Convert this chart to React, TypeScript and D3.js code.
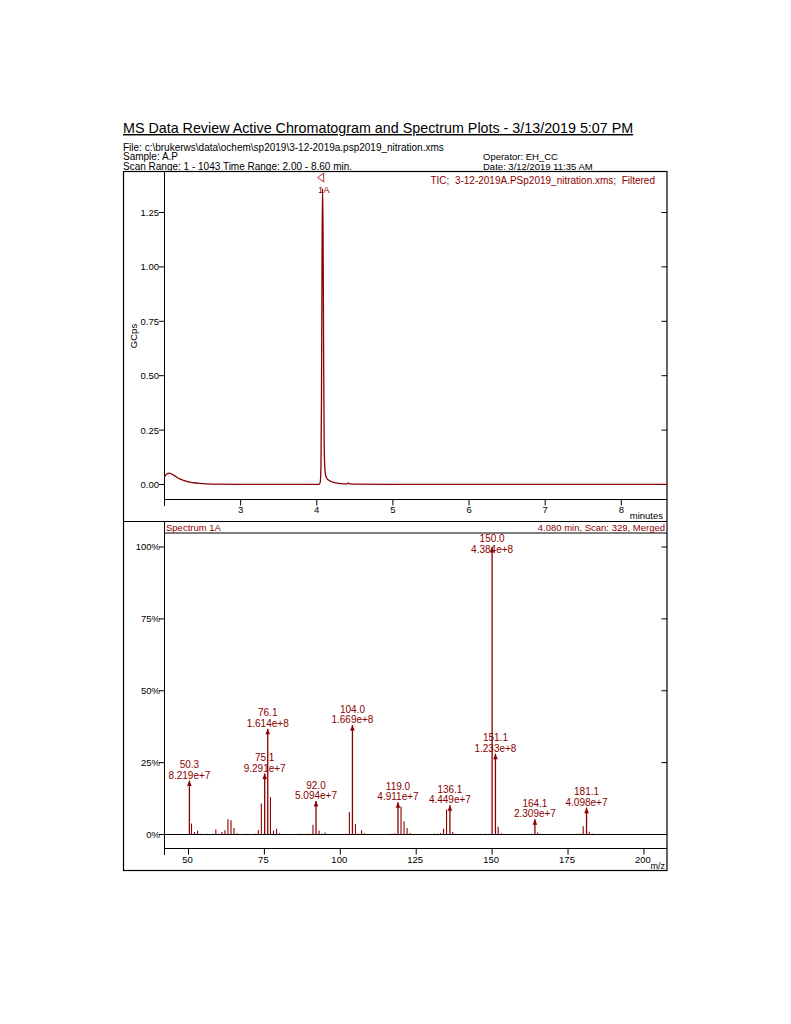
import React from "react";
import * as d3 from "d3";

// ---------- Chromatogram (TIC) ----------
const chromTime = [
  2.0, 2.03, 2.06, 2.09, 2.12, 2.16, 2.2, 2.25, 2.3, 2.38, 2.46, 2.55, 2.7, 3.0, 3.5,
  4.0, 4.03, 4.045, 4.055, 4.062, 4.068, 4.075, 4.082, 4.09, 4.097, 4.105, 4.115, 4.13,
  4.15, 4.18, 4.22, 4.27, 4.32, 4.38, 4.4, 4.415, 4.43, 4.5, 5.0, 6.0, 7.0, 8.0, 8.6,
];
const chromGcps = [
  0.035, 0.048, 0.052, 0.049, 0.043, 0.034, 0.026, 0.019, 0.013, 0.008, 0.005, 0.003, 0.0015, 0.0008, 0.0005,
  0.0004, 0.001, 0.01, 0.08, 0.4, 0.95, 1.36, 1.2, 0.6, 0.2, 0.08, 0.045, 0.03,
  0.022, 0.015, 0.01, 0.006, 0.004, 0.003, 0.003, 0.007, 0.003, 0.002, 0.001, 0.0005, 0.0004, 0.0003, 0.0003,
];
const timeTicks = [3, 4, 5, 6, 7, 8];
const gcpsTicks = [0, 0.25, 0.5, 0.75, 1.0, 1.25];
const peakMarkTime = 4.045;
const peakMarkLabel = "1A";

// ---------- Spectrum ----------
const labeledMz = [50.3, 75.1, 76.1, 92.0, 104.0, 119.0, 136.1, 150.0, 151.1, 164.1, 181.1];
const labeledIntensity = [8.219e7, 9.291e7, 1.614e8, 5.094e7, 1.669e8, 4.911e7, 4.449e7, 4.384e8, 1.233e8, 2.309e7, 4.098e7];
const basePeakIntensity = 4.384e8;

const minorMz = [
  51, 52, 53, 54, 55, 56, 57, 58, 59, 60, 61, 62, 63, 64, 65, 66, 67, 68, 69, 70, 71, 72, 73, 74,
  77, 78, 79, 80, 81, 82, 83, 84, 85, 86, 87, 88, 89, 90, 91, 93, 94, 95, 96, 97, 98, 99, 100, 101, 102,
  103, 105, 106, 107, 108, 109, 110, 111, 112, 113, 114, 115, 116, 117, 118, 120, 121, 122, 123,
  124, 125, 126, 127, 128, 129, 130, 131, 132, 133, 134, 135, 137, 138, 139, 140, 141, 142, 143, 144,
  145, 146, 147, 148, 149, 152, 153, 154, 155, 156, 157, 158, 159, 160, 161, 162, 163, 165, 166,
  167, 168, 169, 170, 171, 172, 173, 174, 175, 176, 177, 178, 179, 180, 182, 183, 184, 185,
];
const minorPct = [
  3.8, 0.9, 1.3, 0.3, 0.2, 0.3, 0.2, 0.3, 1.7, 0.3, 0.9, 1.5, 5.3, 5.0, 2.3, 0.4, 0.2, 0.2, 0.3, 0.2, 0.2, 0.3, 1.6, 10.8,
  13.0, 1.4, 2.0, 0.4, 0.2, 0.2, 0.2, 0.2, 0.2, 0.3, 0.3, 0.2, 0.3, 0.3, 3.4, 1.4, 0.3, 0.7, 0.2, 0.2, 0.2, 0.2, 0.2, 0.2, 0.3,
  7.8, 3.6, 0.3, 1.5, 0.4, 0.2, 0.2, 0.2, 0.2, 0.2, 0.2, 0.2, 0.3, 0.3, 0.4, 9.7, 4.6, 2.3, 0.5,
  0.2, 0.2, 0.2, 0.2, 0.2, 0.2, 0.2, 0.3, 0.3, 0.5, 2.0, 8.7, 0.9, 0.3, 0.2, 0.2, 0.2, 0.2, 0.2, 0.2,
  0.2, 0.3, 0.2, 0.3, 0.3, 2.7, 0.4, 0.2, 0.2, 0.2, 0.2, 0.2, 0.2, 0.2, 0.2, 0.2, 0.3, 0.7, 0.3,
  0.2, 0.2, 0.2, 0.2, 0.2, 0.2, 0.2, 0.2, 0.2, 0.2, 0.2, 0.3, 0.3, 2.9, 1.0, 0.3, 0.2, 0.2,
];
const mzTicks = [50, 75, 100, 125, 150, 175, 200];
const pctTicks = [0, 25, 50, 75, 100];

const titleText = "MS Data Review Active Chromatogram and Spectrum Plots - 3/13/2019 5:07 PM";
const fileText = "File: c:\\brukerws\\data\\ochem\\sp2019\\3-12-2019a.psp2019_nitration.xms";
const sampleText = "Sample: A.P";
const operatorText = "Operator: EH_CC";
const scanText = "Scan Range: 1 - 1043 Time Range: 2.00 - 8.60 min.";
const dateText = "Date: 3/12/2019 11:35 AM";
const ticText = "TIC;  3-12-2019A.PSp2019_nitration.xms;  Filtered";
const spectrumTitle = "Spectrum 1A";
const spectrumInfo = "4.080 min, Scan: 329, Merged";

const RED = "#8b0000";
const FONT = "'Liberation Sans', Arial, Helvetica, sans-serif";

export default function App() {
  const W = 791;
  const H = 1024;
  const frameL = 123.5;
  const frameR = 667;
  const frameT = 171.5;
  const frameB = 870.5;
  const axL = 164.5;

  // chromatogram scales
  const xT = d3.scaleLinear().domain([2.0, 8.6]).range([axL, frameR]);
  const yC = d3.scaleLinear().domain([0, 1.25]).range([484.5, 212.5]);
  const chromAxisY = 499.5;
  const chromLine = d3
    .line<number>()
    .x((_, i) => xT(chromTime[i]))
    .y((_, i) => yC(chromGcps[i]))
    .curve(d3.curveMonotoneX);

  // spectrum scales
  const xM = d3.scaleLinear().domain([42.1, 207.6]).range([axL, frameR]);
  const yP = d3.scaleLinear().domain([0, 100]).range([834.5, 547]);
  const specAxisY = 848.5;
  const dividerY = 521.5;
  const specHeaderB = 533;
  const fmt = d3.format(".3e");

  const tickFs = 9.5;

  return (
    <svg
      width={W}
      height={H}
      style={{ position: "absolute", left: 0, top: 0, background: "#fff" }}
      fontFamily={FONT}
    >
      <rect x={0} y={0} width={W} height={H} fill="#fff" />
      {/* Header */}
      <text x={123} y={133} fontSize={14.3} style={{ textDecoration: "underline" }}>
        {titleText}
      </text>
      <text x={123} y={150.5} fontSize={10}>{fileText}</text>
      <text x={123} y={160} fontSize={10}>{sampleText}</text>
      <text x={483} y={160} fontSize={9.5}>{operatorText}</text>
      <text x={123} y={170} fontSize={10}>{scanText}</text>
      <text x={483} y={170} fontSize={9.5}>{dateText}</text>

      {/* Frame */}
      <rect x={frameL} y={frameT} width={frameR - frameL} height={frameB - frameT} fill="none" stroke="#000" strokeWidth={1.2} />
      <line x1={frameL} x2={frameR} y1={dividerY} y2={dividerY} stroke="#000" strokeWidth={1.2} />

      {/* ---------- Chromatogram ---------- */}
      <line x1={axL} x2={axL} y1={frameT} y2={chromAxisY + 6.5} stroke="#000" />
      <line x1={axL} x2={frameR} y1={chromAxisY} y2={chromAxisY} stroke="#000" />
      {gcpsTicks.map((v) => (
        <g key={"gt" + v}>
          <line x1={axL - 5.5} x2={axL} y1={yC(v)} y2={yC(v)} stroke="#000" />
          <line x1={frameR - 5.5} x2={frameR} y1={yC(v)} y2={yC(v)} stroke="#000" />
          <text x={axL - 5.5} y={yC(v) + 3.4} fontSize={tickFs} textAnchor="end">
            {d3.format(".2f")(v)}
          </text>
        </g>
      ))}
      {timeTicks.map((t) => (
        <g key={"tt" + t}>
          <line x1={xT(t)} x2={xT(t)} y1={chromAxisY} y2={chromAxisY + 6} stroke="#000" />
          <text x={xT(t)} y={chromAxisY + 13} fontSize={tickFs} textAnchor="middle">
            {t}
          </text>
        </g>
      ))}
      <text x={663} y={518.5} fontSize={tickFs} textAnchor="end">minutes</text>
      <text
        transform={`translate(136.5,336) rotate(-90)`}
        fontSize={tickFs}
        textAnchor="middle"
      >
        GCps
      </text>
      <text x={655} y={183.5} fontSize={10} textAnchor="end" fill={RED} style={{ whiteSpace: "pre" }}>
        {ticText}
      </text>
      <path d={chromLine(chromTime) || ""} fill="none" stroke={RED} strokeWidth={1.3} />
      {/* peak marker */}
      <path
        d={`M${xT(peakMarkTime) - 2.5},177.5 L${xT(peakMarkTime) + 3.5},173 L${xT(peakMarkTime) + 3.5},182 Z`}
        fill="none"
        stroke={RED}
        strokeWidth={0.8}
      />
      <text x={xT(peakMarkTime) + 3.5} y={192.5} fontSize={9.5} textAnchor="middle" fill={RED}>
        {peakMarkLabel}
      </text>

      {/* ---------- Spectrum ---------- */}
      <line x1={axL} x2={frameR} y1={specHeaderB} y2={specHeaderB} stroke="#000" />
      <text x={166} y={531} fontSize={9.5} fill={RED}>{spectrumTitle}</text>
      <text x={665} y={531} fontSize={9.5} fill={RED} textAnchor="end">{spectrumInfo}</text>
      <line x1={axL} x2={axL} y1={dividerY} y2={specAxisY + 6.5} stroke="#000" />
      <line x1={axL} x2={frameR} y1={specAxisY} y2={specAxisY} stroke="#000" />
      {pctTicks.map((v) => (
        <g key={"pt" + v}>
          <line x1={axL - 5.5} x2={axL} y1={yP(v)} y2={yP(v)} stroke="#000" />
          <line x1={frameR - 5.5} x2={frameR} y1={yP(v)} y2={yP(v)} stroke="#000" />
          <text x={axL - 4.5} y={yP(v) + 3.4} fontSize={tickFs} textAnchor="end">
            {v + "%"}
          </text>
        </g>
      ))}
      {mzTicks.map((m) => (
        <g key={"mt" + m}>
          <line x1={xM(m)} x2={xM(m)} y1={specAxisY} y2={specAxisY + 6} stroke="#000" />
          <text x={xM(m) - 1} y={specAxisY + 14} fontSize={tickFs} textAnchor="middle">
            {m}
          </text>
        </g>
      ))}
      <text x={665} y={869} fontSize={9} textAnchor="end">m/z</text>

      {/* minor bars */}
      {minorMz.map((m, i) => (
        <line
          key={"mb" + m}
          x1={xM(m)}
          x2={xM(m)}
          y1={yP(0)}
          y2={yP(minorPct[i])}
          stroke={RED}
          strokeWidth={1.1}
        />
      ))}
      {/* labeled bars */}
      {labeledMz.map((m, i) => {
        const pct = (labeledIntensity[i] / basePeakIntensity) * 100;
        const x = xM(m);
        const tip = yP(pct);
        const massY = Math.max(tip - 12.5, 542);
        return (
          <g key={"lb" + m}>
            <line x1={x} x2={x} y1={yP(0)} y2={tip} stroke={RED} strokeWidth={1.3} />
            <path d={`M${x},${tip} L${x - 2.3},${tip + 5.5} L${x + 2.3},${tip + 5.5} Z`} fill={RED} />
            <text x={x} y={massY} fontSize={10} textAnchor="middle" fill={RED}>
              {m.toFixed(1)}
            </text>
            <text x={x} y={massY + 10.5} fontSize={10} textAnchor="middle" fill={RED}>
              {fmt(labeledIntensity[i])}
            </text>
          </g>
        );
      })}
      <line x1={axL} x2={frameR} y1={yP(0)} y2={yP(0)} stroke="#000" strokeWidth={1.1} />
    </svg>
  );
}
